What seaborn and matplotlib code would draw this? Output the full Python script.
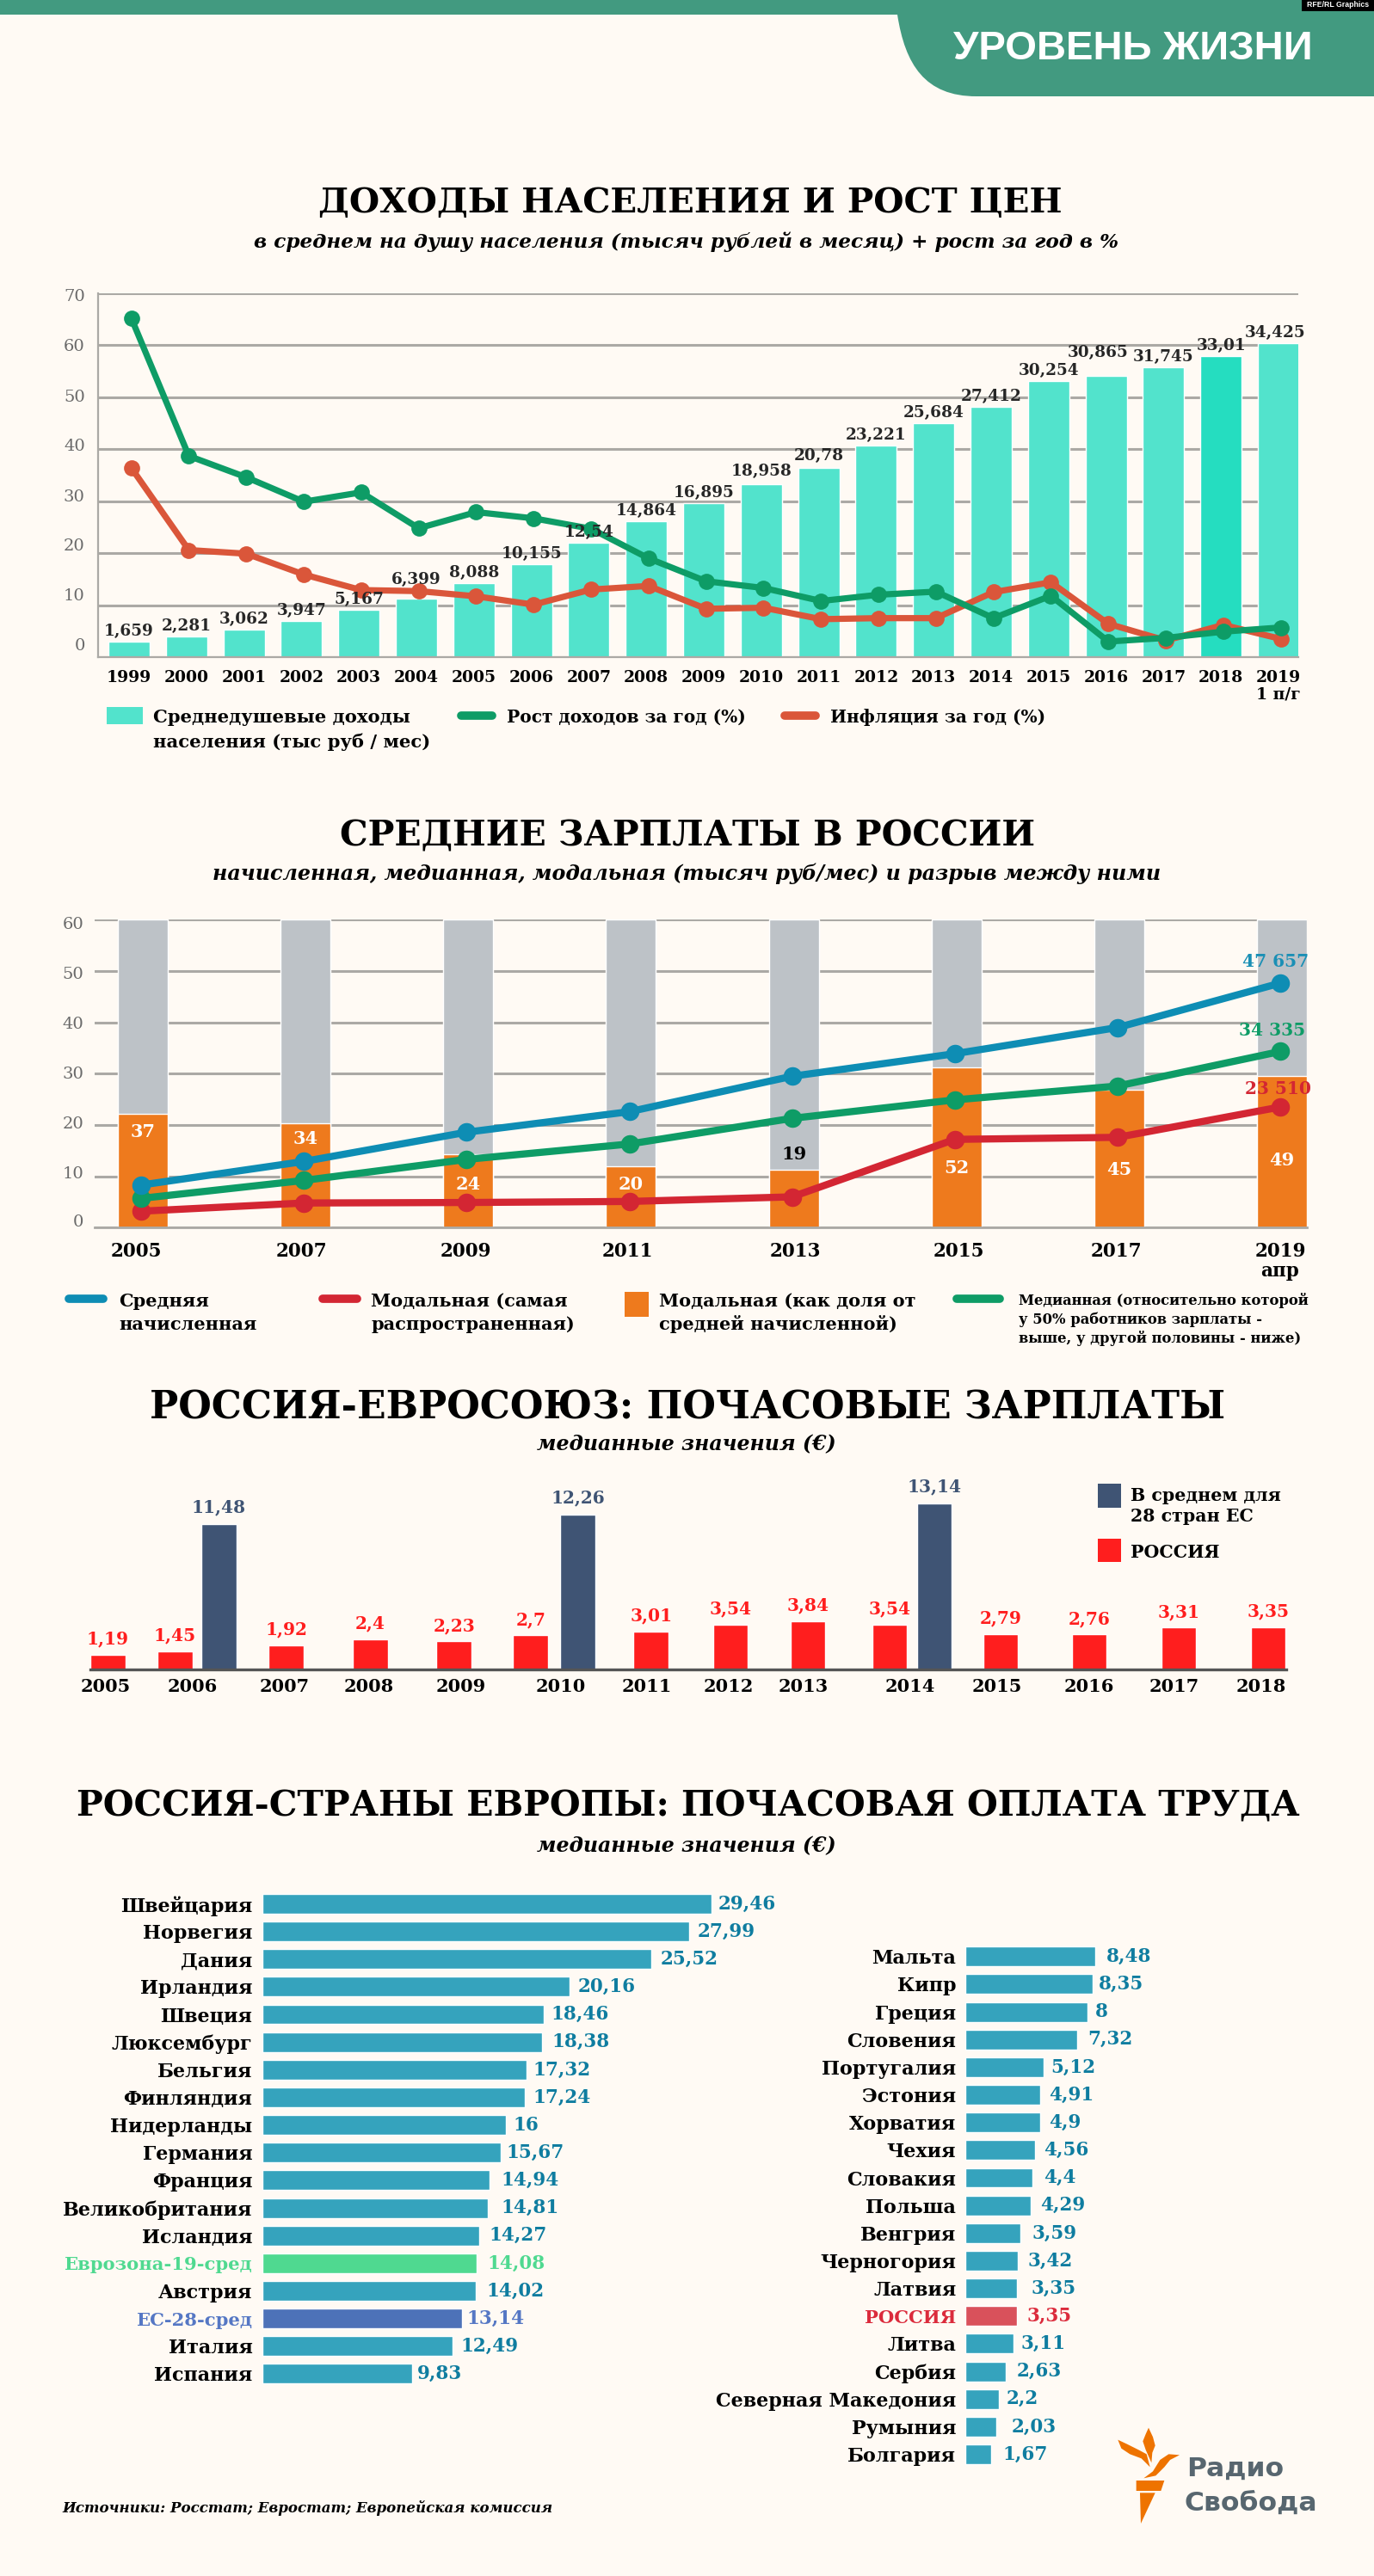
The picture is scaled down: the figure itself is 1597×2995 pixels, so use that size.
import numpy as np
import pandas as pd
import matplotlib
matplotlib.use("Agg")
import matplotlib.pyplot as plt
from matplotlib.patches import Polygon, Rectangle, PathPatch
from matplotlib.path import Path
from matplotlib.transforms import ScaledTranslation
import seaborn as sns

W, H = 1597, 2995
BG = "#FFFAF4"
TEAL = "#429A80"
SERIF = "DejaVu Serif"
GRID = "#ABA9A5"

# income chart
inc_years = list(range(1999, 2020))
inc_labels = ["1,659", "2,281", "3,062", "3,947", "5,167", "6,399", "8,088", "10,155", "12,54", "14,864",
              "16,895", "18,958", "20,78", "23,221", "25,684", "27,412", "30,254", "30,865", "31,745", "33,01", "34,425"]
inc_values = [1.659, 2.281, 3.062, 3.947, 5.167, 6.399, 8.088, 10.155, 12.54, 14.864,
              16.895, 18.958, 20.78, 23.221, 25.684, 27.412, 30.254, 30.865, 31.745, 33.01, 34.425]
inc_growth = [65.2, 38.7, 34.6, 29.9, 31.7, 24.8, 27.9, 26.7, 24.7, 19.0, 14.6,
              13.3, 10.8, 12.0, 12.6, 7.5, 11.8, 3.0, 3.7, 4.9, 5.7]
inflation = [36.4, 20.6, 19.9, 15.9, 12.9, 12.7, 11.7, 10.1, 13.0, 13.7, 9.3,
             9.5, 7.3, 7.5, 7.5, 12.5, 14.4, 6.4, 3.2, 6.2, 3.5]

# wages chart
wage_years = [2005, 2007, 2009, 2011, 2013, 2015, 2017, 2019]
wage_mean = [8.3, 12.9, 18.6, 22.6, 29.5, 33.9, 39.0, 47.657]
wage_median = [5.7, 9.2, 13.3, 16.3, 21.3, 24.9, 27.6, 34.335]
wage_modal = [3.2, 4.8, 4.9, 5.1, 6.0, 17.2, 17.6, 23.51]
wage_modal_bar = [22.1, 20.3, 14.3, 11.9, 11.3, 31.2, 26.9, 29.5]
wage_share = ["37", "34", "24", "20", "19", "52", "45", "49"]

# russia vs eu
ru_years = ["2005", "2006", "2007", "2008", "2009", "2010", "2011", "2012", "2013", "2014", "2015", "2016", "2017", "2018"]
ru_values = [1.19, 1.45, 1.92, 2.4, 2.23, 2.7, 3.01, 3.54, 3.84, 3.54, 2.79, 2.76, 3.31, 3.35]
ru_labels = ["1,19", "1,45", "1,92", "2,4", "2,23", "2,7", "3,01", "3,54", "3,84", "3,54", "2,79", "2,76", "3,31", "3,35"]
eu_values = [11.48, 12.26, 13.14]
eu_labels = ["11,48", "12,26", "13,14"]

# europe left
eur_left = ["Швейцария", "Норвегия", "Дания", "Ирландия", "Швеция", "Люксембург", "Бельгия", "Финляндия", "Нидерланды",
            "Германия", "Франция", "Великобритания", "Исландия", "Еврозона-19-сред", "Австрия", "ЕС-28-сред", "Италия", "Испания"]
eur_left_val = [29.46, 27.99, 25.52, 20.16, 18.46, 18.38, 17.32, 17.24, 16, 15.67, 14.94, 14.81, 14.27, 14.08, 14.02, 13.14, 12.49, 9.83]
eur_left_txt = ["29,46", "27,99", "25,52", "20,16", "18,46", "18,38", "17,32", "17,24", "16", "15,67", "14,94", "14,81", "14,27", "14,08", "14,02", "13,14", "12,49", "9,83"]

# europe right
eur_right = ["Мальта", "Кипр", "Греция", "Словения", "Португалия", "Эстония", "Хорватия", "Чехия", "Словакия", "Польша", "Венгрия",
             "Черногория", "Латвия", "РОССИЯ", "Литва", "Сербия", "Северная Македония", "Румыния", "Болгария"]
eur_right_val = [8.48, 8.35, 8, 7.32, 5.12, 4.91, 4.9, 4.56, 4.4, 4.29, 3.59, 3.42, 3.35, 3.35, 3.11, 2.63, 2.2, 2.03, 1.67]
eur_right_txt = ["8,48", "8,35", "8", "7,32", "5,12", "4,91", "4,9", "4,56", "4,4", "4,29", "3,59", "3,42", "3,35", "3,35", "3,11", "2,63", "2,2", "2,03", "1,67"]

# gaps between bar end and its label, px
left_gaps = [8, 10, 11, 10, 9, 11, 8, 9, 8, 6, 13, 15, 11, 12, 12, 5, 10, 6]
right_gaps = [13, 7, 9, 12, 8, 10, 10, 10, 13, 11, 13, 11, 17, 12, 9, 13, 8, 17, 13]

sns.set_theme(style="white")
plt.rcParams["font.family"] = [SERIF, "DejaVu Sans"]
plt.rcParams["axes.unicode_minus"] = False

fig = plt.figure(figsize=(W / 100, H / 100), dpi=100, facecolor=BG)

# overlay in pixel coords for header, titles, legends
ov = fig.add_axes([0, 0, 1, 1], zorder=5)
ov.set_xlim(0, W)
ov.set_ylim(H, 0)
ov.axis("off")
ov.patch.set_alpha(0)


def px_axes(left, top, right, bottom):
    ax = fig.add_axes([left / W, 1 - bottom / H, (right - left) / W, (bottom - top) / H])
    ax.patch.set_alpha(0)
    return ax


def txt(x, y, s, size, color="black", weight="bold", style="normal", ha="center", family=None, **kw):
    return ov.text(x, y, s, fontsize=size, color=color, fontweight=weight, fontstyle=style, ha=ha, va="center",
                   family=family or [SERIF, "DejaVu Sans"], **kw)


def shift_labels(ax, offsets):
    for lab, dy in zip(ax.get_yticklabels(), offsets):
        lab.set_transform(lab.get_transform() + ScaledTranslation(0, dy / 100, fig.dpi_scale_trans))


def swatch_line(x0, x1, y, color):
    ov.plot([x0, x1], [y, y], color=color, lw=7, solid_capstyle="round")


# ---- header
ov.add_patch(Rectangle((0, 0), W, 17, color=TEAL, lw=0))
tab = Path([(1043, 17), (1052, 75), (1075, 112), (1135, 112), (W, 112), (W, 17), (1043, 17)],
           [Path.MOVETO, Path.CURVE4, Path.CURVE4, Path.CURVE4, Path.LINETO, Path.LINETO, Path.CLOSEPOLY])
ov.add_patch(PathPatch(tab, facecolor=TEAL, edgecolor="none"))
ov.add_patch(Rectangle((1513, 0), 84, 13, color="black", lw=0))
txt(1555, 6, "RFE/RL Graphics", 6.3, color="white", family=["Liberation Sans"])
txt(1317, 57, "УРОВЕНЬ ЖИЗНИ", 34, color="white", family=["Liberation Sans"])

# ---- chart 1: incomes and prices
txt(802, 236, "ДОХОДЫ НАСЕЛЕНИЯ И РОСТ ЦЕН", 29.1)
txt(798, 281, "в среднем на душу населения (тысяч рублей в месяц) + рост за год в %", 16.7, style="italic")

ax1 = px_axes(114, 341, 1509, 764)
PCT_PER_INC = 1.755
bar_colors = ["#52E3CC"] * len(inc_years)
bar_colors[inc_years.index(2018)] = "#25DDC0"
inc_df = pd.DataFrame({"year": inc_years, "value": np.array(inc_values) * PCT_PER_INC})
sns.barplot(data=inc_df, x="year", y="value", hue="year", palette=bar_colors, legend=False, saturation=1,
            native_scale=True, width=48 / 66.8, dodge=False, ax=ax1, zorder=2)
ax1.set_axisbelow(True)
ax1.yaxis.grid(True, color=GRID, lw=2.2)
ax1.xaxis.grid(False)
line_x = np.array(inc_years) + 0.04
sns.lineplot(x=line_x, y=inflation, color="#DA563A", lw=5.2, marker="o", ms=13.5, mew=0, ax=ax1, zorder=3)
sns.lineplot(x=line_x, y=inc_growth, color="#0E9C66", lw=5.2, marker="o", ms=13.5, mew=0, ax=ax1, zorder=3.1)
ax1.set_xlim(1999 - 36 / 66.8, 2019 + 23 / 66.8)
ax1.set_ylim(0, 70)
ax1.set_yticks(range(0, 71, 10))
ax1.set_xticks(inc_years)
tick_names = [str(y) for y in inc_years]
tick_names[-1] = "2019\n1 п/г"
ax1.set_xticklabels(tick_names, fontsize=13.5, fontweight="bold", color="black", linespacing=1.1)
ax1.tick_params(axis="x", length=0, pad=11)
ax1.tick_params(axis="y", length=0, pad=11, labelsize=14, labelcolor="#6A6A6A")
ax1.set_xlabel("")
ax1.set_ylabel("")
shift_labels(ax1, [15, 12.7, 10, 7, 5, 2, 0, -2])
for s in ["top", "right"]:
    ax1.spines[s].set_visible(False)
for s in ["left", "bottom"]:
    ax1.spines[s].set_color(GRID)
    ax1.spines[s].set_linewidth(1.6)
label_lift = {2004: 22, 2016: 27, 2011: 14, 2010: 15}
label_dx = {2016: -9, 2019: -4}
for yr, v, lab in zip(inc_years, inc_values, inc_labels):
    ax1.annotate(lab, (yr, v * PCT_PER_INC), xytext=(label_dx.get(yr, 0) * 0.72, (label_lift.get(yr, 12) - 9) * 0.72),
                 textcoords="offset points", ha="center", va="bottom", fontsize=13.3, fontweight="bold", zorder=6,
                 annotation_clip=False)

ov.add_patch(Rectangle((124, 822), 42, 20, color="#52E3CC", lw=0))
txt(178, 834, "Среднедушевые доходы", 15.2, ha="left")
txt(178, 863, "населения (тыс руб / мес)", 15.2, ha="left")
swatch_line(536, 572, 832, "#0E9C66")
txt(589, 834, "Рост доходов за год (%)", 14.5, ha="left")
swatch_line(912, 948, 832, "#DA563A")
txt(965, 834, "Инфляция за год (%)", 14.5, ha="left")

# ---- chart 2: wages
txt(799, 973, "СРЕДНИЕ ЗАРПЛАТЫ В РОССИИ", 29.5)
txt(798, 1016, "начисленная, медианная, модальная (тысяч руб/мес) и разрыв между ними", 17.1, style="italic")

ax2 = px_axes(110, 1069.4, 1519, 1427.3)
YEAR_PX = 94.57
sns.barplot(x=wage_years, y=[60] * len(wage_years), color="#BDC2C7", native_scale=True, width=58 / 189.1,
            saturation=1, ax=ax2, zorder=2)
sns.barplot(x=wage_years, y=wage_modal_bar, color="#EE7A1D", native_scale=True, width=58 / 189.1,
            saturation=1, ax=ax2, zorder=2.1)
ax2.set_axisbelow(True)
ax2.yaxis.grid(True, color=GRID, lw=2.2)
ax2.xaxis.grid(False)
wx = np.array(wage_years) - 0.02
sns.lineplot(x=wx, y=wage_modal, color="#D32633", lw=6, marker="o", ms=15.5, mew=0, ax=ax2, zorder=3)
sns.lineplot(x=wx, y=wage_median, color="#0E9C66", lw=6, marker="o", ms=15.5, mew=0, ax=ax2, zorder=3.1)
sns.lineplot(x=wx, y=wage_mean, color="#0E8DB4", lw=6, marker="o", ms=15.5, mew=0, ax=ax2, zorder=3.2)
ax2.set_xlim(2005 - 56 / YEAR_PX, 2019 + 29 / YEAR_PX)
ax2.set_ylim(0, 60)
ax2.set_yticks(range(0, 61, 10))
ax2.set_xticks(np.array(wage_years) + np.array([-8, -5, -3, -4, 2, 3, -3, -2]) / YEAR_PX)
ax2.set_xticklabels(["2005", "2007", "2009", "2011", "2013", "2015", "2017", "2019\nапр"],
                    fontsize=15.5, fontweight="bold", color="black", linespacing=1.05)
ax2.tick_params(axis="x", length=0, pad=12)
ax2.tick_params(axis="y", length=0, pad=9, labelsize=14, labelcolor="#6A6A6A")
shift_labels(ax2, [8, 5, 3, 1, 0, -2.4, -4])
sns.despine(ax=ax2, left=True)
ax2.spines["bottom"].set_color(GRID)
ax2.spines["bottom"].set_linewidth(2)
share_y = [18.7, 17.3, 8.4, 8.4, 14.3, 11.7, 11.2, 13.2]
for yr, sh, yy in zip(wage_years, wage_share, share_y):
    ax2.text(yr, yy, sh, ha="center", va="center", fontsize=15, fontweight="bold",
             color="black" if sh == "19" else "white", zorder=6)
ax2.text(2019 - 0.08, 51.8, "47 657", color="#1A8FB5", ha="center", va="center", fontsize=14.5, fontweight="bold", zorder=6, clip_on=False)
ax2.text(2019 - 0.12, 38.5, "34 335", color="#0E9C66", ha="center", va="center", fontsize=14.5, fontweight="bold", zorder=6, clip_on=False)
ax2.text(2019 - 0.05, 27.0, "23 510", color="#D32633", ha="center", va="center", fontsize=14.5, fontweight="bold", zorder=6, clip_on=False)

swatch_line(80, 120, 1510, "#0E8DB4")
txt(138, 1513, "Средняя", 15, ha="left")
txt(138, 1540, "начисленная", 15, ha="left")
swatch_line(375, 415, 1510, "#D32633")
txt(431, 1513, "Модальная (самая", 15, ha="left")
txt(431, 1540, "распространенная)", 15, ha="left")
ov.add_patch(Rectangle((726, 1502), 28, 29, color="#EE7A1D", lw=0))
txt(766, 1513, "Модальная (как доля от", 15, ha="left")
txt(766, 1540, "средней начисленной)", 15, ha="left")
swatch_line(1112, 1162, 1510, "#0E9C66")
txt(1184, 1512, "Медианная (относительно которой", 11.8, ha="left")
txt(1184, 1534, "у 50% работников зарплаты -", 11.8, ha="left")
txt(1184, 1556, "выше, у другой половины - ниже)", 11.8, ha="left")

# ---- chart 3: russia vs eu
txt(799, 1637, "РОССИЯ-ЕВРОСОЮЗ: ПОЧАСОВЫЕ ЗАРПЛАТЫ", 31.8)
txt(798, 1679, "медианные значения (€)", 17, style="italic")

ax3 = px_axes(105, 1735, 1495, 1941)
# slot positions, 100 px to a slot, 2005 at 0
ru_slot = np.array([0, 0.78, 2.07, 3.05, 4.02, 4.91, 6.31, 7.23, 8.13, 9.08, 10.37, 11.40, 12.44, 13.48])
eu_slot = np.array([1.29, 5.46, 9.60])
tick_slot = np.array([-0.03, 0.98, 2.05, 3.03, 4.10, 5.26, 6.26, 7.21, 8.08, 9.32, 10.33, 11.40, 12.39, 13.40])
slot_df = pd.DataFrame({"slot": np.r_[ru_slot, eu_slot], "value": ru_values + eu_values,
                        "group": ["ru"] * len(ru_slot) + ["eu"] * len(eu_slot)})
min_gap = np.diff(np.sort(slot_df["slot"])).min()
sns.barplot(data=slot_df, x="slot", y="value", hue="group", palette={"ru": "#FF1E1E", "eu": "#3F5474"}, dodge=False,
            native_scale=True, width=0.405 / min_gap, legend=False, saturation=1, ax=ax3, zorder=2)
ax3.set_xlim(-0.205, 13.69)
ax3.set_ylim(0, 206 / 14.7)
ax3.set_yticks([])
ax3.set_xticks(tick_slot)
ax3.set_xticklabels(ru_years, fontsize=15, fontweight="bold", color="black")
ax3.tick_params(axis="x", length=0, pad=7)
ax3.set_xlabel("")
ax3.set_ylabel("")
sns.despine(ax=ax3, left=True)
ax3.spines["bottom"].set_color("#555555")
ax3.spines["bottom"].set_linewidth(2.4)
for s, v, lab in zip(ru_slot, ru_values, ru_labels):
    ax3.annotate(lab, (s, v), xytext=(0, 6), textcoords="offset points", ha="center", va="bottom",
                 fontsize=14.5, fontweight="bold", color="#FF1E1E", annotation_clip=False)
for s, v, lab in zip(eu_slot, eu_values, eu_labels):
    ax3.annotate(lab, (s, v), xytext=(0, 7), textcoords="offset points", ha="center", va="bottom",
                 fontsize=14.5, fontweight="bold", color="#3F5474", annotation_clip=False)
ov.add_patch(Rectangle((1276, 1725), 27, 28, color="#3F5474", lw=0))
txt(1314, 1739, "В среднем для", 14.8, ha="left")
txt(1314, 1763, "28 стран ЕС", 14.8, ha="left")
ov.add_patch(Rectangle((1276, 1789), 27, 27, color="#FF1E1E", lw=0))
txt(1314, 1805, "РОССИЯ", 14.8, ha="left")

# ---- chart 4: european countries
txt(800, 2100, "РОССИЯ-СТРАНЫ ЕВРОПЫ: ПОЧАСОВАЯ ОПЛАТА ТРУДА", 29.5)
txt(798, 2146, "медианные значения (€)", 17, style="italic")

ROW = 32.15
HIGHLIGHT = {"Еврозона-19-сред": ("#4FD990", "#4FD990"), "ЕС-28-сред": ("#4D72B8", "#5577C4"), "РОССИЯ": ("#D9515B", "#DB2B3C")}


def country_bars(names, vals, texts, gaps, left, y_first):
    n = len(names)
    top = y_first - ROW / 2
    ax = px_axes(left, top, left + 530, top + ROW * n)
    colors = [HIGHLIGHT.get(c, ("#35A3BD",))[0] for c in names]
    sns.barplot(x=vals, y=names, hue=names, palette=colors, legend=False, width=0.715, saturation=1, ax=ax, orient="h")
    ax.set_xlim(0, 530 / 17.72)
    ax.set_ylim(n - 0.5, -0.5)
    ax.set_xticks([])
    ax.set_xlabel("")
    ax.set_ylabel("")
    ax.tick_params(axis="y", length=0, pad=8)
    ax.set_yticks(range(n))
    ax.set_yticklabels(names, fontsize=16, fontweight="bold")
    for lab, c in zip(ax.get_yticklabels(), names):
        lab.set_color(HIGHLIGHT.get(c, (None, "black"))[1])
        if c in HIGHLIGHT:
            lab.set_fontsize(15.2)
    sns.despine(ax=ax, left=True, bottom=True)
    for i, (c, v, t, g) in enumerate(zip(names, vals, texts, gaps)):
        ax.annotate(t, (v, i), xytext=(g * 0.72, 0), textcoords="offset points", ha="left", va="center",
                    fontsize=15.5, fontweight="bold", color=HIGHLIGHT.get(c, (None, "#0F7DA0"))[1], annotation_clip=False)
    return ax


country_bars(eur_left, eur_left_val, eur_left_txt, left_gaps, 304.6, 2213.4)
country_bars(eur_right, eur_right_val, eur_right_txt, right_gaps, 1122.4, 2274.8)

txt(72, 2916, "Источники: Росстат; Евростат; Европейская комиссия", 12, style="italic", ha="left")

# ---- logo
LOGO = "#EE7300"
torch = [
    [(28, 80), (60, 95), (100, 115), (128, 130), (140, 175), (110, 145), (70, 130), (40, 110)],
    [(135, 38), (125, 60), (115, 85), (125, 115), (145, 160), (148, 125), (158, 100), (150, 70)],
    [(243, 133), (205, 130), (175, 150), (150, 190), (118, 214), (160, 205), (190, 175), (210, 150)],
    [(92, 222), (190, 222), (178, 258), (92, 258)],
    [(105, 265), (158, 265), (108, 372)],
]
for shape in torch:
    ov.add_patch(Polygon([(1290 + a / 3, 2810 + b / 3) for a, b in shape], closed=True, facecolor=LOGO, edgecolor="none"))
txt(1379, 2870, "Радио", 22.6, color="#57666F", ha="left", family=["DejaVu Sans"])
txt(1377, 2910, "Свобода", 22.6, color="#57666F", ha="left", family=["DejaVu Sans"])

fig.savefig("out.png", dpi=100, facecolor=BG)
